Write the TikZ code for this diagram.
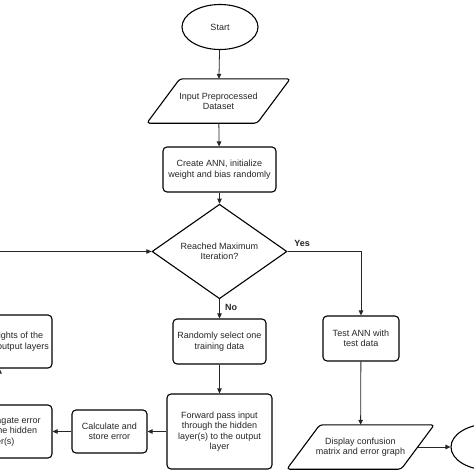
\documentclass[tikz,border=0pt]{standalone}
\usepackage{fontspec}
\setmainfont{Liberation Sans}
\usetikzlibrary{shapes.geometric,arrows.meta}
\begin{document}
\begin{tikzpicture}[x=1pt,y=-1pt,
  font=\fontsize{9}{10.4}\selectfont,
  box/.style={draw, line width=1.1pt, rounded corners=4pt, align=center, inner sep=0pt, text=black!85},
  term/.style={draw, ellipse, line width=1.1pt, inner sep=0pt, text=black!85},
  para/.style={align=center, inner sep=0pt, text=black!85},
  decision/.style={draw, diamond, line width=1.1pt, inner sep=0pt, align=center, text=black!85},
  arr/.style={-{Triangle[length=5pt,width=4.5pt]}, line width=0.8pt, black!85},
  lbl/.style={font=\fontsize{9}{10.4}\selectfont\bfseries, text=black!85}
]
\useasboundingbox (0,0) rectangle (474,474);
\clip (0,0) rectangle (474,474);
\fill[white] (0,0) rectangle (474,474);

\node[term, minimum width=76pt, minimum height=45pt] (start) at (220,27) {Start};
\node[para, minimum width=143pt, minimum height=44pt] (input) at (218.5,101) {Input Preprocessed\\Dataset};
\draw[line width=1.1pt, rounded corners=3pt]
  ([xshift=33pt]input.north west) -- (input.north east) -- ([xshift=-33pt]input.south east) -- (input.south west) -- cycle;
\node[box, minimum width=113pt, minimum height=45pt] (create) at (219.5,169.5) {Create ANN, initialize\\weight and bias randomly};
\node[decision, minimum width=135pt, minimum height=75pt] (dec) at (219.5,251.5) {Reached Maximum\\Iteration?};
\node[box, minimum width=93pt, minimum height=45pt] (rand) at (219.5,341.5) {Randomly select one\\training data};
\node[box, minimum width=105pt, minimum height=75pt] (fwd) at (219.5,431.5) {Forward pass input\\through the hidden\\layer(s) to the output\\layer};
\node[box, minimum width=75pt, minimum height=43pt] (calc) at (109.5,431.5) {Calculate and\\store error};
\node[box, minimum width=105pt, minimum height=53pt] (back) at (-0.5,431.5) {Backpropagate error\\through the hidden\\layer(s)};
\node[box, minimum width=105pt, minimum height=53pt] (upd) at (-0.5,341.5) {Update weights of the\\hidden and output layers};
\node[box, minimum width=76pt, minimum height=45pt] (test) at (361,338.5) {Test ANN with\\test data};
\node[para, minimum width=147pt, minimum height=44pt] (disp) at (360.5,447) {Display confusion\\matrix and error graph};
\draw[line width=1.1pt, rounded corners=3pt]
  ([xshift=33pt]disp.north west) -- (disp.north east) -- ([xshift=-33pt]disp.south east) -- (disp.south west) -- cycle;
\node[term, minimum width=76pt, minimum height=46pt] (end) at (489,447) {End};
\coordinate (loopc) at (-70,341.5);

\draw[arr] (start) -- (input);
\draw[arr] (input) -- (create);
\draw[arr] (create) -- (dec);
\draw[arr] (dec) -- node[lbl, right=2pt, pos=0.4] (no) {No} (rand);
\draw[arr] (rand) -- (fwd);
\draw[arr] (fwd) -- (calc);
\draw[arr] (calc) -- (back);
\draw[arr] (back) -- (upd);
\draw[arr] (upd.west) -- (loopc) |- (dec.west);
\draw[arr] (dec.east) -| node[lbl, pos=0.1, above=1pt] (yes) {Yes} (test.north);
\draw[arr] (test) -- (disp);
\draw[arr] ([xshift=-16.5pt]disp.east) -- (end);
\end{tikzpicture}
\end{document}
